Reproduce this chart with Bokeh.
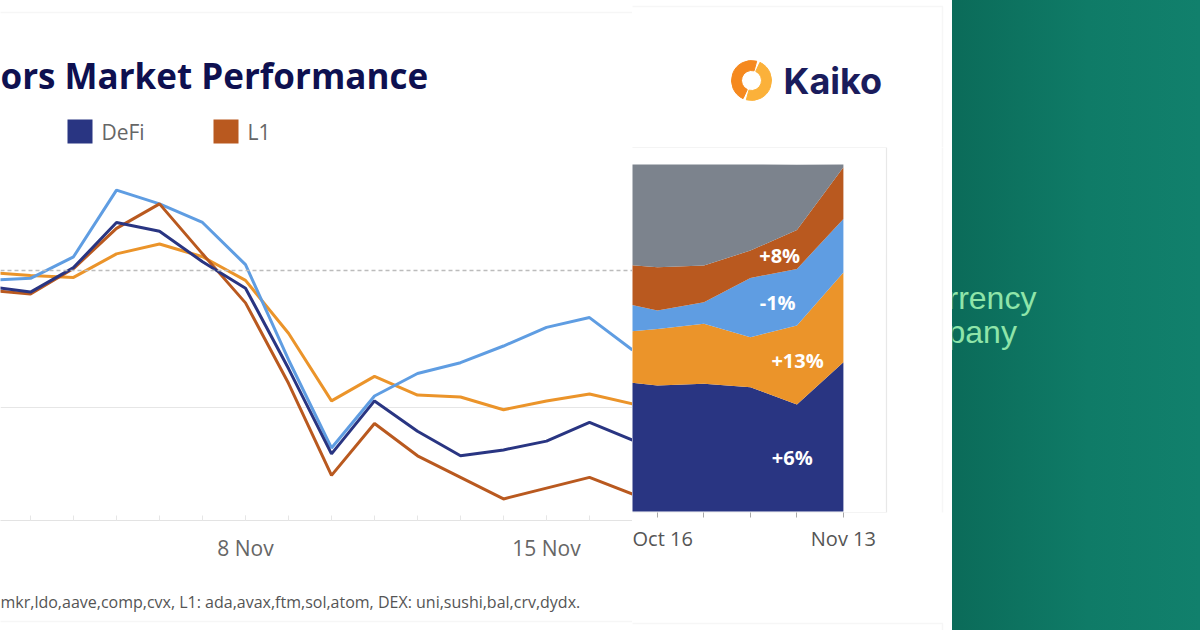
from bokeh.plotting import figure
from bokeh.models import (Range1d, FixedTicker, Span, Label, BoxAnnotation, ColumnDataSource)
from bokeh.layouts import row, column
from bokeh.embed import file_html
from bokeh.resources import INLINE

# ---------------- data: sector performance (% change), days of November ----------------
days = [2, 3, 4, 5, 6, 7, 8, 9, 10, 11, 12, 13, 14, 15, 16, 17]
defi = [-1.6, -2.2, 0.3, 4.9, 4.0, 0.9, -1.8, -10.0, -18.7, -13.3, -16.4, -18.9, -18.3, -17.4, -15.5, -17.3]
l1 = [-2.0, -2.4, 0.2, 4.3, 6.8, 1.7, -3.3, -11.5, -20.9, -15.6, -18.9, -21.1, -23.3, -22.2, -21.1, -22.8]
dex = [-1.0, -0.8, 1.4, 8.2, 6.8, 4.9, 0.6, -9.1, -18.1, -12.8, -10.5, -9.4, -7.7, -5.8, -4.8, -8.1]
other = [-0.2, -0.5, -0.7, 1.7, 2.7, 1.4, -1.0, -6.4, -13.3, -10.8, -12.7, -12.9, -14.2, -13.3, -12.6, -13.6]
line_label_days = [8, 15]
line_label_text = ["8 Nov", "15 Nov"]
grid_levels = [10, -14]
legend_names = ["DeFi", "L1"]

# ---------------- data: market share (100% stacked), days from Oct 16 ----------------
share_days = [-7, 0, 7, 14, 21, 28]
share_tick_days = [0, 7, 14, 21, 28]
share_tick_text = ["Oct 16", "", "", "", "Nov 13"]
share_navy = [37.7, 36.3, 36.8, 35.8, 30.8, 43.0]
share_orange = [13.7, 16.3, 17.3, 14.4, 22.8, 25.9]
share_lightblue = [9.5, 5.3, 6.2, 17.1, 16.3, 15.4]
share_brown = [10.5, 12.5, 10.6, 7.9, 11.2, 14.9]
share_gray = [28.6, 29.6, 29.1, 24.8, 18.8, 0.8]
share_labels = ["+8%", "-1%", "+13%", "+6%"]
share_label_x = [18.4, 18.1, 21.1, 20.3]
share_label_y = [73.8, 60.2, 43.5, 15.6]

NAVY = "#293582"
BROWN = "#b9591f"
LBLUE = "#5f9de2"
ORANGE = "#eb942a"
GRAY = "#7c838d"
CARD = "#e2e2e2"
FONT = "Open Sans"


def box(fig, left, right, top, bottom, color=CARD, width=1.5, fill=None):
    fig.add_layout(BoxAnnotation(left=left, right=right, top=top, bottom=bottom,
                                 left_units="screen", right_units="screen",
                                 top_units="screen", bottom_units="screen",
                                 fill_color=fill, fill_alpha=0 if fill is None else 1,
                                 line_color=color, line_width=width))


def text(fig, x, y, t, size, color, font=FONT, style="normal", align="left"):
    fig.add_layout(Label(x=x, y=y, x_units="screen", y_units="screen", text=t, text_font=font,
                         text_font_size=size, text_font_style=style, text_color=color,
                         text_baseline="middle", text_align=align))


def blank(w, h):
    f = figure(width=w, height=h, x_range=Range1d(0, 1), y_range=Range1d(0, 1),
               x_axis_type=None, y_axis_type=None, output_backend="svg", toolbar_location=None,
               min_border=0)
    f.outline_line_color = None
    return f


# ================= left panel =================
header = blank(632, 172)
box(header, -10, 700, 160, -50)
text(header, 0, 97, "ors Market Performance", "35px", "#0e1050", style="bold")
for name, col, sx in zip(legend_names, [NAVY, BROWN], [67, 213]):
    box(header, sx, sx + 25, 53, 29, color=None, fill=col)
    text(header, sx + 34, 41, name, "21px", "#666666")

p = figure(width=632, height=408, x_range=Range1d(2.302, 17.0), y_range=Range1d(-25.5, 10.0),
           output_backend="svg", toolbar_location=None,
           min_border_left=0, min_border_right=0, min_border_top=0, min_border_bottom=60)
p.outline_line_color = None
p.yaxis.visible = False
p.xgrid.visible = False
p.ygrid.ticker = FixedTicker(ticks=grid_levels)
p.ygrid.grid_line_color = "#e6e6e6"
p.ygrid.grid_line_width = 1.2
xa = p.xaxis[0]
xa.ticker = FixedTicker(ticks=line_label_days, minor_ticks=days)
xa.major_label_overrides = {d: t for d, t in zip(line_label_days, line_label_text)}
xa.axis_line_color = "#e3e3e3"
xa.major_tick_in = 5
xa.major_tick_out = 0
xa.minor_tick_in = 5
xa.minor_tick_out = 0
xa.major_tick_line_color = "#e6e6e6"
xa.minor_tick_line_color = "#e6e6e6"
xa.major_label_text_font = FONT
xa.major_label_text_font_size = "21px"
xa.major_label_text_color = "#666666"
xa.major_label_standoff = 13
p.add_layout(Span(location=0, dimension="width", line_color="#bcbcbc", line_dash="4 3", line_width=1.5))
p.line(days, other, color=ORANGE, line_width=3)
p.line(days, dex, color=LBLUE, line_width=3)
p.line(days, l1, color=BROWN, line_width=3)
p.line(days, defi, color=NAVY, line_width=3)

footer = blank(632, 50)
text(footer, 0, 29, "mkr,ldo,aave,comp,cvx, L1:  ada,avax,ftm,sol,atom, DEX: uni,sushi,bal,crv,dydx.",
     "16px", "#555555")
box(footer, -10, 700, 9, -20)

left = column(header, p, footer, spacing=0)

# ================= middle panel =================
logo = figure(width=320, height=147, x_range=Range1d(0, 320), y_range=Range1d(0, 147),
              x_axis_type=None, y_axis_type=None, output_backend="svg", toolbar_location=None, min_border=0)
logo.outline_line_color = None
logo.annular_wedge(x=[119], y=[67], inner_radius=10, outer_radius=20, start_angle=75, end_angle=245,
                   inner_radius_units="screen", outer_radius_units="screen",
                   start_angle_units="deg", end_angle_units="deg", color="#f5891f")
logo.annular_wedge(x=[119], y=[67], inner_radius=10, outer_radius=20, start_angle=-105, end_angle=65,
                   inner_radius_units="screen", outer_radius_units="screen",
                   start_angle_units="deg", end_angle_units="deg", color="#fbb13a")
text(logo, 151, 67, "Kaiko", "36px", "#1a1c5c", font="Inter", style="bold")
box(logo, -20, 310, 141, -50)

area = figure(width=320, height=425, x_range=Range1d(-3.76, 44.43), y_range=Range1d(-0.29, 104.9),
              y_axis_type=None, output_backend="svg", toolbar_location=None,
              min_border_left=0, min_border_right=0, min_border_top=0, min_border_bottom=60)
area.outline_line_color = None
area.xgrid.visible = False
src = ColumnDataSource(dict(x=share_days, navy=share_navy, orange=share_orange, lblue=share_lightblue,
                            brown=share_brown, gray=share_gray))
area.varea_stack(stackers=["navy", "orange", "lblue", "brown", "gray"], x="x",
                 color=[NAVY, ORANGE, LBLUE, BROWN, GRAY], source=src)
ax = area.xaxis[0]
ax.ticker = FixedTicker(ticks=share_tick_days)
ax.major_label_overrides = {d: t for d, t in zip(share_tick_days, share_tick_text)}
ax.axis_line_color = None
ax.major_tick_line_color = "#a9a9a9"
ax.major_tick_in = 0
ax.major_tick_out = 5
ax.minor_tick_line_color = None
ax.major_label_text_font = FONT
ax.major_label_text_font_size = "20px"
ax.major_label_text_color = "#555555"
ax.major_label_standoff = 7
for t, lx, ly in zip(share_labels, share_label_x, share_label_y):
    area.add_layout(Label(x=lx, y=ly, text=t, text_align="center", text_baseline="middle",
                          text_font=FONT, text_font_size="20px", text_font_style="bold", text_color="white"))
box(area, -20, 254, 365, 0, color="#b3b3b3", width=1.2)
box(area, -20, 310, 500, -50)

mfooter = blank(320, 58)
box(mfooter, -20, 310, 7, -20)

middle = column(logo, area, mfooter, spacing=0)

# ================= right panel: green banner =================
right = figure(width=248, height=630, x_range=Range1d(0, 1), y_range=Range1d(0, 1),
               x_axis_type=None, y_axis_type=None, output_backend="svg", toolbar_location=None,
               min_border=0, styles={"background": "linear-gradient(90deg, #0b6b59 0%, #0f7b67 55%, #11806c 100%)"})
right.outline_line_color = None
right.background_fill_alpha = 0
right.border_fill_alpha = 0
text(right, -5, 333, "rrency", "32px", "#8fe5a9", font="Liberation Sans")
text(right, -5, 299, "pany", "32px", "#8fe5a9", font="Liberation Sans")

layout = row(left, middle, column(right), spacing=0)
open("out.html", "w").write(file_html(layout, INLINE))
